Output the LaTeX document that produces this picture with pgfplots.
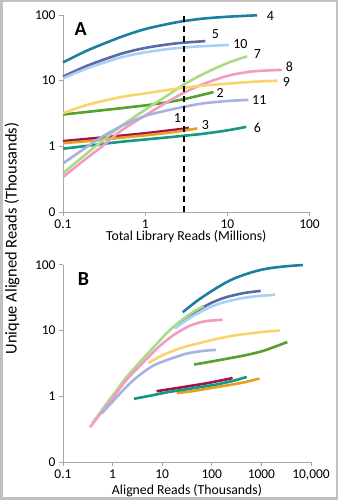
\documentclass[border=0pt]{standalone}
\usepackage{fontspec}
\setmainfont{Carlito}
\usepackage{pgfplots}
\pgfplotsset{compat=1.18}
\definecolor{cI}{HTML}{A3124E}
\definecolor{cII}{HTML}{5A9E2B}
\definecolor{cIII}{HTML}{E6A121}
\definecolor{cIV}{HTML}{1B7FA0}
\definecolor{cV}{HTML}{5B6AA6}
\definecolor{cVI}{HTML}{16987E}
\definecolor{cVII}{HTML}{A9DC82}
\definecolor{cVIII}{HTML}{F29CC3}
\definecolor{cIX}{HTML}{FAD46B}
\definecolor{cX}{HTML}{A9D0F5}
\definecolor{cXI}{HTML}{A6B3DE}
\definecolor{axgray}{HTML}{A6A6A6}
\definecolor{framegray}{HTML}{C0C0C0}
\tikzset{clab/.style={font=\fontsize{14}{15}\selectfont}}
\pgfplotsset{/pgf/number format/assume math mode=true}
\pgfplotsset{every axis plot/.append style={line width=2.6bp, smooth, mark=none}}
\begin{document}
\begin{tikzpicture}
\useasboundingbox (0,0) rectangle (338bp,500bp);
\fill[white] (0,0) rectangle (338bp,500bp);
\draw[line width=2.5bp, framegray] (1.25bp,1.25bp) rectangle (336.75bp,498.75bp);
% Panel A
\begin{axis}[at={(63bp,288bp)}, anchor=south west, width=246.5bp, height=197bp, scale only axis,
  xmode=log, ymode=log,
  axis x line*=bottom, axis y line*=left,
  axis line style={draw=axgray, line width=0.8bp},
  tick style={draw=axgray, line width=0.8bp},
  major tick length=4bp, tick align=outside,
  xminorticks=false, yminorticks=false,
  ymin=0.1, ymax=100,
  ytick={0.1,1,10,100}, yticklabels={0,1,10,100},
  tick label style={font=\fontsize{13.5}{14}\selectfont},
  label style={font=\fontsize{13.8}{15}\selectfont},
  xlabel style={at={(rel axis cs:0.5,0)}, anchor=center, yshift=-25bp},
  clip=false,
  xmin=0.1, xmax=100, xtick={0.1,1,10,100}, xticklabels={0.1,1,10,100},
  xlabel={Total Library Reads (Millions)}]
\addplot[cI] coordinates {(0.1,1.2)(0.2,1.3)(0.5,1.45)(1,1.58)(2,1.75)(3,1.86)(3.4,1.92)};
\addplot[cII] coordinates {(0.1,3.05)(0.2,3.35)(0.5,3.8)(1,4.2)(1.5,4.5)(2,4.75)(3,5.25)(4,5.7)(5,6.1)(6.8,6.7)};
\addplot[cIII] coordinates {(0.1,1.12)(0.2,1.2)(0.5,1.35)(1,1.47)(2,1.62)(3,1.74)(4.3,1.87)};
\addplot[cIV] coordinates {(0.1,19)(0.2,29)(0.5,46)(1,61)(2,74)(3,81)(5,88)(10,94)(23,99)};
\addplot[cV] coordinates {(0.1,11.5)(0.2,17)(0.5,25.5)(1,31.5)(2,36)(3,38)(5.4,40)};
\addplot[cVI] coordinates {(0.1,0.92)(0.2,1.02)(0.5,1.17)(1,1.27)(2,1.38)(3,1.45)(5,1.55)(10,1.75)(17,1.98)};
\addplot[cVII] coordinates {(0.1,0.39)(0.2,0.8)(0.3,1.2)(0.5,2.0)(1,3.6)(2,6.3)(3,8.8)(5,12.5)(10,18.5)(17.4,23.5)};
\addplot[cVIII] coordinates {(0.1,0.34)(0.2,0.68)(0.3,1.0)(0.5,1.7)(1,2.95)(2,5.0)(3,6.6)(5,8.8)(10,11.8)(20,13.8)(46,14.6)};
\addplot[cIX] coordinates {(0.1,3.2)(0.2,4.3)(0.5,5.6)(1,6.4)(2,7.3)(3,7.8)(5,8.4)(10,9.0)(20,9.6)(41,10)};
\addplot[cX] coordinates {(0.1,10.8)(0.2,15.5)(0.5,22.5)(1,27)(2,30.5)(3,32)(5,33.5)(10.4,35)};
\addplot[cXI] coordinates {(0.1,0.55)(0.2,1.0)(0.3,1.4)(0.5,2.0)(1,2.9)(2,3.6)(3,4.0)(5,4.5)(10,4.9)(18,5.1)};
\addplot[black, line width=1.8bp, dash pattern=on 6bp off 4bp, sharp plot] coordinates {(3,0.1)(3,100)};
\node[clab] at (axis cs:33.4,96.6) {4};
\node[clab] at (axis cs:7.14,51.5) {5};
\node[clab] at (axis cs:14.4,36.3) {10};
\node[clab] at (axis cs:23.2,25.6) {7};
\node[clab] at (axis cs:57,16.3) {8};
\node[clab] at (axis cs:52.4,9.66) {9};
\node[clab] at (axis cs:8.2,6.58) {2};
\node[clab] at (axis cs:24.5,5.15) {11};
\node[clab] at (axis cs:2.46,2.66) {1};
\node[clab] at (axis cs:5.4,2.08) {3};
\node[clab] at (axis cs:23.2,1.94) {6};
\node[font=\fontsize{20}{20}\selectfont\bfseries] at (axis cs:0.164,61) {A};
\end{axis}
% Panel B
\begin{axis}[at={(63bp,37.7bp)}, anchor=south west, width=248bp, height=197.6bp, scale only axis,
  xmode=log, ymode=log,
  axis x line*=bottom, axis y line*=left,
  axis line style={draw=axgray, line width=0.8bp},
  tick style={draw=axgray, line width=0.8bp},
  major tick length=4bp, tick align=outside,
  xminorticks=false, yminorticks=false,
  ymin=0.1, ymax=100,
  ytick={0.1,1,10,100}, yticklabels={0,1,10,100},
  tick label style={font=\fontsize{13.5}{14}\selectfont},
  label style={font=\fontsize{13.8}{15}\selectfont},
  xlabel style={at={(rel axis cs:0.5,0)}, anchor=center, yshift=-28bp},
  clip=false,
  xmin=0.1, xmax=10000, xtick={0.1,1,10,100,1000,10000}, xticklabels={0.1,1,10,100,1000,{10,000}},
  xlabel={Aligned Reads (Thousands)}]
\addplot[cI] coordinates {(7.7,1.2)(15.4,1.3)(38.5,1.45)(77,1.58)(154,1.75)(231,1.86)(262,1.92)};
\addplot[cII] coordinates {(44,3.05)(90,3.35)(228,3.8)(460,4.2)(690,4.5)(930,4.75)(1400,5.25)(1880,5.7)(2400,6.1)(3330,6.7)};
\addplot[cIII] coordinates {(19.6,1.12)(40,1.2)(101,1.35)(204,1.47)(415,1.62)(630,1.74)(914,1.87)};
\addplot[cIV] coordinates {(26,19)(53,29)(135,46)(272,61)(550,74)(830,81)(1400,88)(2850,94)(6840,99)};
\addplot[cV] coordinates {(18,11.5)(36,17)(90,25.5)(180,31.5)(360,36)(540,38)(968,40)};
\addplot[cVI] coordinates {(2.7,0.92)(5.5,1.02)(13.8,1.17)(28,1.27)(56,1.38)(85,1.45)(143,1.55)(290,1.75)(507,1.98)};
\addplot[cVII] coordinates {(0.39,0.39)(0.78,0.8)(1.17,1.2)(1.95,2.0)(3.9,3.6)(7.8,6.3)(11.7,8.8)(19.5,12.5)(39,18.5)(68,23.5)};
\addplot[cVIII] coordinates {(0.35,0.34)(0.71,0.68)(1.07,1.0)(1.8,1.7)(3.6,2.95)(7.2,5.0)(10.8,6.6)(18,8.8)(36,11.8)(72,13.8)(166,14.6)};
\addplot[cIX] coordinates {(5.25,3.2)(10.6,4.3)(27,5.6)(54,6.4)(109,7.3)(165,7.8)(277,8.4)(560,9.0)(1140,9.6)(2372,10)};
\addplot[cX] coordinates {(18,10.8)(36,15.5)(90,22.5)(180,27)(360,30.5)(540,32)(900,33.5)(1890,35)};
\addplot[cXI] coordinates {(0.6,0.55)(1.25,1.0)(1.9,1.4)(3.2,2.0)(6.4,2.9)(12.8,3.6)(19.3,4.0)(32,4.5)(65,4.9)(122,5.1)};
\node[font=\fontsize{20}{20}\selectfont\bfseries] at (axis cs:0.26,61) {B};
\end{axis}
\node[rotate=90, font=\fontsize{16.5}{17}\selectfont] at (12bp,261.5bp) {Unique Aligned Reads (Thousands)};
\end{tikzpicture}
\end{document}
